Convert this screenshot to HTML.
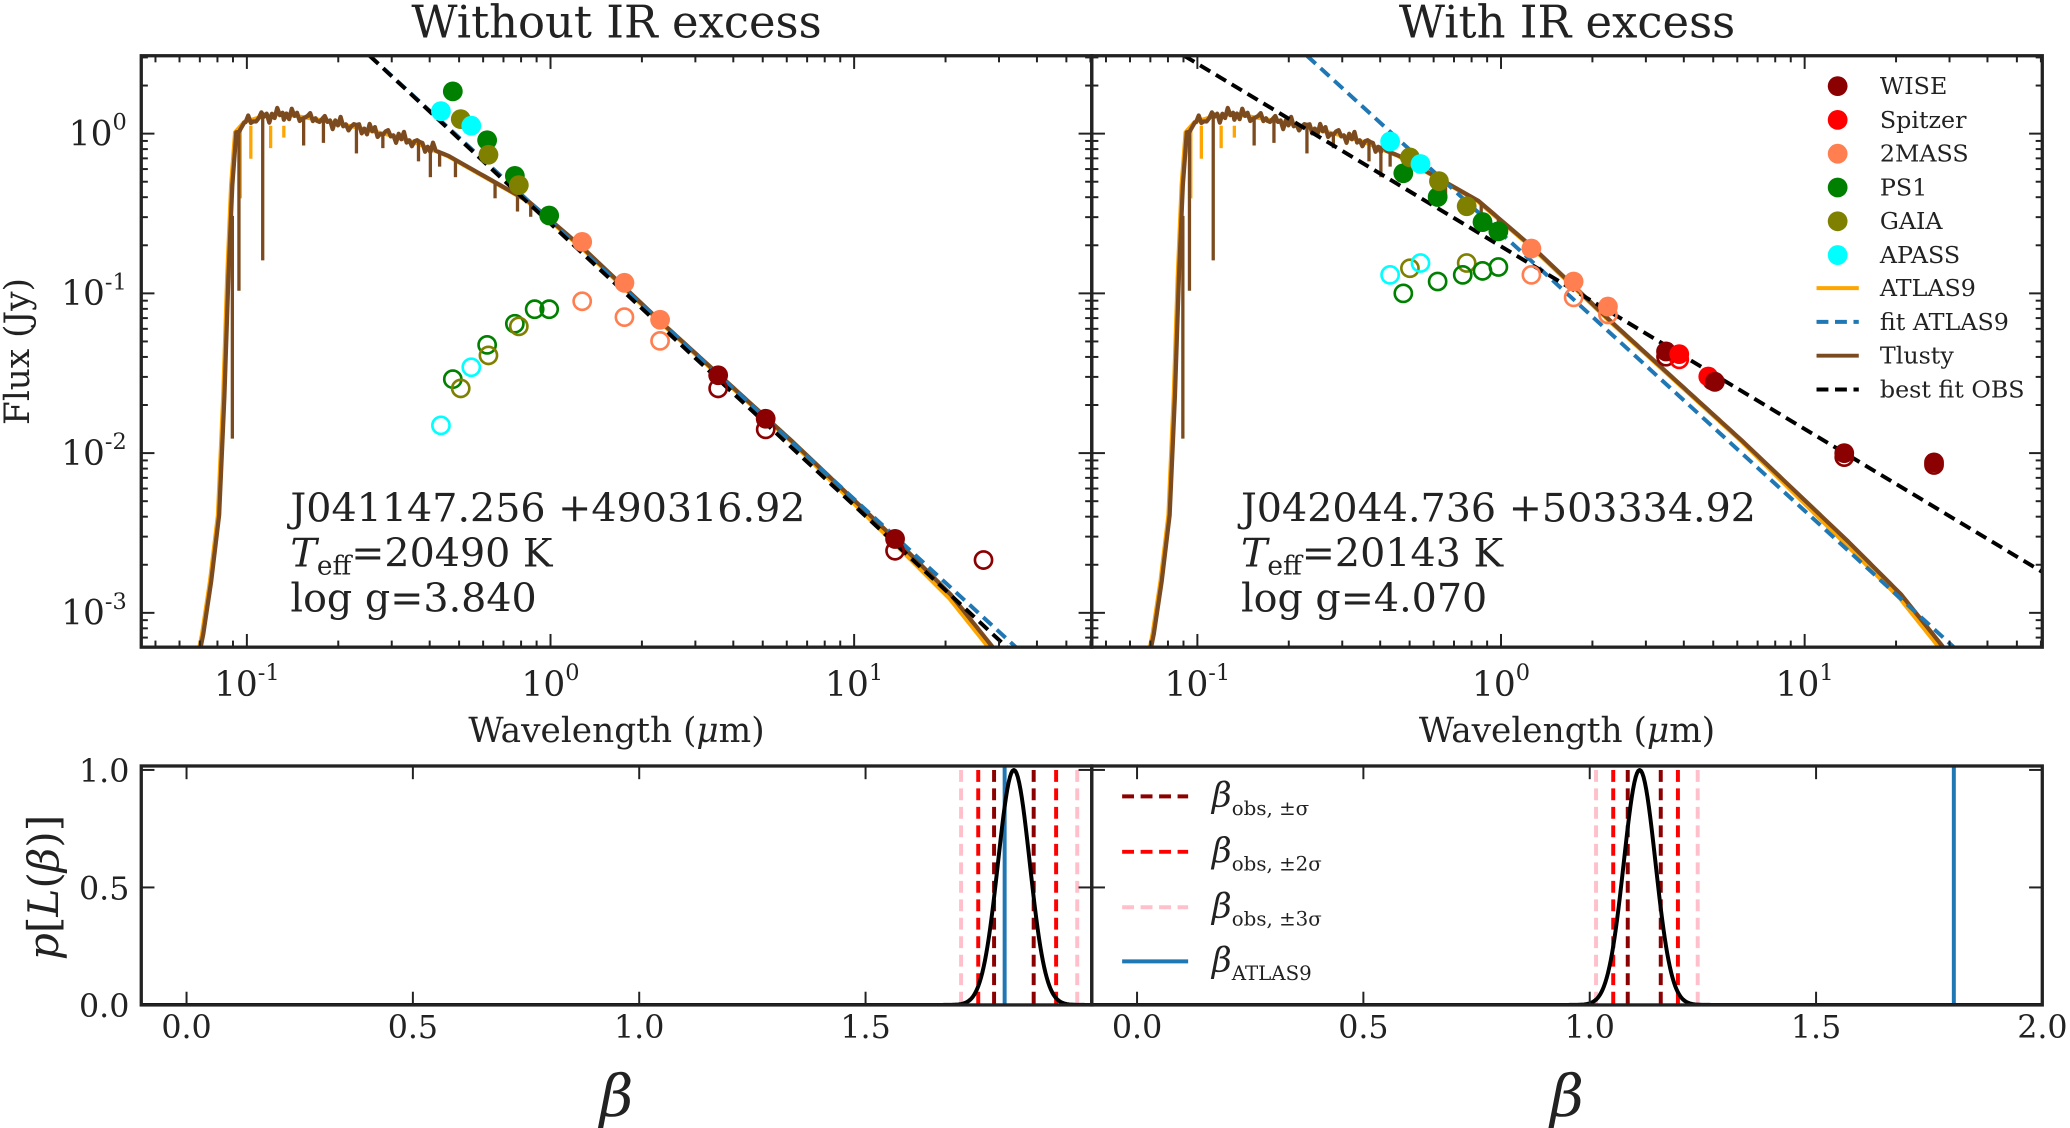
<!DOCTYPE html>
<html><head><meta charset="utf-8"><style>
html,body{margin:0;padding:0;background:#fff}
svg{display:block}
text{font-family:"DejaVu Serif","Liberation Serif",serif;fill:#222}
</style></head><body>
<svg id="s" width="2070" height="1128" viewBox="0 0 1568 854" xmlns="http://www.w3.org/2000/svg"></svg>
<script>
const S=document.getElementById('s');let h='';
function ln(x1,y1,x2,y2,c,w,d){h+=`<line x1="${x1}" y1="${y1}" x2="${x2}" y2="${y2}" stroke="${c}" stroke-width="${w}" ${d?`stroke-dasharray="${d}"`:''}/>`;}
function tx(x,y,t,sz,a,extra){h+=`<text x="${x}" y="${y}" font-size="${sz}" text-anchor="${a||'start'}" ${extra||''}>${t}</text>`;}
function pl(pts,c,w,d){h+=`<polyline points="${pts.map(p=>p.join(',')).join(' ')}" fill="none" stroke="${c}" stroke-width="${w}" stroke-linejoin="round" ${d?`stroke-dasharray="${d}"`:''}/>`;}
function dot(x,y,c,open){h+=open?`<circle cx="${x}" cy="${y}" r="6.5" fill="none" stroke="${c}" stroke-width="2"/>`:`<circle cx="${x}" cy="${y}" r="7.5" fill="${c}"/>`;}
const C={W:'#8b0000',S:'#ff0000',M:'#ff7f50',P:'#008000',G:'#808000',A:'#00ffff'};
function sed(ox,title,name,teff,logg){
  h+=`<clipPath id="c${ox}"><rect x="${107+ox}" y="42" width="720" height="448"/></clipPath><g clip-path="url(#c${ox})">`;
  const base=[[146,520],[154,480],[160,440],[166,390],[170,300],[173,210],[176,140],[179,100],[186,92],[200,88],[215,86],[240,90],[270,96],[300,103],[316,108],[340,118],[370,135],[400,152],[442,188],[500,243],[600,334],[680,410],[720,450],[760,500]];
  const orange=base.map(p=>[p[0]+ox-1,p[1]+(p[0]>600?3:0)]);
  pl(orange,'#ffa500',3);
  [[182,150],[190,120],[205,112],[215,104]].forEach(d=>ln(d[0]+ox,95,d[0]+ox,d[1],'#ffa500',2.5));
  let br=[];
  for(let i=0;i<base.length-1;i++){
    const [x1,y1]=base[i],[x2,y2]=base[i+1];
    for(let x=x1;x<x2;x+=2){const y=y1+(y2-y1)*(x-x1)/(x2-x1);
      let n=(x>180&&x<330)?Math.sin(x*1.7)*3+Math.sin(x*0.53)*2.5:0;
      br.push([x+ox,y+n]);}
  }
  const dips=[[176,332],[181,220],[199,197],[230,110],[245,108],[270,116],[290,112],[317,122],[326,134],[333,126],[345,134],[375,150],[392,160],[402,164],[415,170]];
  pl(br,'#7b4a1e',3.2);
  dips.forEach(d=>{const x=d[0]+ox;let yb=0;for(const p of br){if(Math.abs(p[0]-x)<2){yb=p[1];break;}}ln(x,yb,x,d[1],'#7b4a1e',2.5);});
  if(!ox){ln(280,42,775,495,'#1f77b4',3,'9,5');ln(280,42,768,495,'#000',3,'9,5');}
  else{ln(990,42,1480,490,'#1f77b4',3,'9,5');ln(897,42,1547,433,'#000',3,'9,5');}
  h+='</g>';
  tx(467+ox,28,title,34,'middle');
  tx(220+ox,395,name,30);
  tx(220+ox,429,`<tspan font-style="italic">T</tspan><tspan font-size="20" dy="6">eff</tspan><tspan dy="-6">=20${teff.slice(2)} K</tspan>`,30);
  tx(220+ox,463,`log g=${logg}`,30);
  h+=`<rect x="${107+ox}" y="42" width="720" height="448" fill="none" stroke="#222" stroke-width="2.5"/>`;
  for(let d=-2;d<=1;d++)for(let m=1;m<10;m++){const x=187+ox+230*(d+1)+230*Math.log10(m);if(x<107+ox||x>827+ox)continue;const L=m==1?10:5;ln(x,490,x,490-L,'#222',1.5);ln(x,42,x,42+L,'#222',1.5);}
  ['-1','0','1'].forEach((e,i)=>tx(187+ox+230*i,527,`10<tspan font-size="17" dy="-12">${e}</tspan>`,26,'middle'));
  tx(467+ox,562,'Wavelength (<tspan font-style="italic">μ</tspan>m)',26,'middle');
  for(let d=-4;d<=0;d++)for(let m=1;m<10;m++){const y=101-121*(d+Math.log10(m));if(y<42||y>490)continue;const L=m==1?10:5;ln(107+ox,y,107+ox+L,y,'#222',1.5);ln(827+ox,y,827+ox-L,y,'#222',1.5);}
  if(!ox){[['0',101],['-1',222],['-2',343],['-3',464]].forEach(a=>tx(96,a[1]+9,`10<tspan font-size="17" dy="-12">${a[0]}</tspan>`,26,'end'));
    tx(0,0,'Flux (Jy)',26,'middle','transform="translate(22,266) rotate(-90)"');}
}
sed(0,'Without IR excess','J041147.256 +490316.92','20490','3.840');
sed(720,'With IR excess','J042044.736 +503334.92','20143','4.070');
[[334,322,'A'],[343,287,'P'],[349,294,'G'],[357,278,'A'],[369,261,'P'],[370,269,'G'],[390,245,'P'],[393,247,'G'],[405,234,'P'],[416,234,'P'],[441,228,'M'],[473,240,'M'],[500,258,'M'],[544,294,'W'],[580,325,'W'],[678,417,'W'],[745,424,'W']].forEach(p=>dot(p[0],p[1],C[p[2]],1));
[[343,69,'P'],[334,84,'A'],[349,90,'G'],[357,95,'A'],[369,106,'P'],[370,117,'G'],[390,133,'P'],[393,140,'G'],[416,163,'P'],[441,183,'M'],[473,214,'M'],[500,242,'M'],[544,284,'W'],[580,317,'W'],[678,408,'W']].forEach(p=>dot(p[0],p[1],C[p[2]]));
[[1053,208,'A'],[1063,222,'P'],[1068,203,'G'],[1076,199,'A'],[1089,213,'P'],[1111,199,'G'],[1108,208,'P'],[1123,205,'P'],[1135,202,'P'],[1160,208,'M'],[1192,225,'M'],[1218,238,'M'],[1262,270,'W'],[1272,272,'S'],[1297,288,'W'],[1397,346,'W'],[1465,352,'W']].forEach(p=>dot(p[0],p[1],C[p[2]],1));
[[1053,107,'A'],[1063,131,'P'],[1068,119,'G'],[1076,124,'A'],[1089,149,'P'],[1090,137,'G'],[1111,156,'G'],[1123,168,'P'],[1135,175,'P'],[1160,188,'M'],[1192,213,'M'],[1218,232,'M'],[1262,266,'W'],[1272,268,'S'],[1294,285,'S'],[1299,289,'W'],[1397,343,'W'],[1465,350,'W']].forEach(p=>dot(p[0],p[1],C[p[2]]));
[['W','WISE'],['S','Spitzer'],['M','2MASS'],['P','PS1'],['G','GAIA'],['A','APASS']].forEach((a,i)=>{const y=65+25.6*i;dot(1392,y,C[a[0]]);tx(1424,y+6,a[1],18);});
[['#ffa500','ATLAS9',0],['#1f77b4','fit ATLAS9',1],['#7b4a1e','Tlusty',0],['#000','best fit OBS',1]].forEach((a,i)=>{const y=218+25.6*i;ln(1376,y,1408,y,a[0],3,a[2]?'9,5':'');tx(1424,y+6,a[1],18);});
function bot(ox,lines,blue,mu,maxb){
  h+=`<clipPath id="b${ox}"><rect x="${107+ox}" y="580" width="720" height="181"/></clipPath><g clip-path="url(#b${ox})">`;
  const cols=['pink','red','#8b0000','#8b0000','red','pink'];
  lines.forEach((x,i)=>ln(x,583,x,761,cols[i],3,'9,5'));
  ln(blue,580,blue,761,'#1f77b4',3);
  let g=[];for(let x=107+ox;x<=827+ox;x+=1){g.push([x,761-178*Math.exp(-Math.pow((x-mu)/12,2)/2)]);}
  pl(g,'#000',3);
  h+='</g>';
  h+=`<rect x="${107+ox}" y="580" width="720" height="181" fill="none" stroke="#222" stroke-width="2.5"/>`;
  for(let b=0;b<=maxb+0.01;b+=0.5){const x=141.3+ox+342.9*b;ln(x,761,x,751,'#222',1.5);ln(x,580,x,590,'#222',1.5);tx(x,786,b.toFixed(1),24,'middle');}
  [583,672,761].forEach(y=>{ln(107+ox,y,117+ox,y,'#222',1.5);ln(827+ox,y,817+ox,y,'#222',1.5);});
  tx(467+ox,845,'β',44,'middle','font-style="italic"');
}
bot(0,[728,741,753,783,800,816],761,768,1.5);
bot(720,[1209,1222,1233,1258,1271,1286],1480,1242,2.0);
[['1.0',583],['0.5',672],['0.0',761]].forEach(a=>tx(98,a[1]+9,a[0],24,'end'));
tx(0,0,'<tspan font-style="italic">p</tspan>[<tspan font-style="italic">L</tspan>(<tspan font-style="italic">β</tspan>)]',32,'middle','transform="translate(44,672) rotate(-90)"');
[['#8b0000','±σ'],['red','±2σ'],['pink','±3σ']].forEach((a,i)=>{const y=603+42*i;ln(850,y,900,y,a[0],3,'9,5');tx(918,y+8,`<tspan font-style="italic">β</tspan><tspan font-size="15" dy="6">obs, ${a[1]}</tspan>`,26);});
ln(850,728,900,728,'#1f77b4',3);tx(918,736,`<tspan font-style="italic">β</tspan><tspan font-size="15" dy="6">ATLAS9</tspan>`,26);
S.innerHTML=h;
</script>
</body></html>
